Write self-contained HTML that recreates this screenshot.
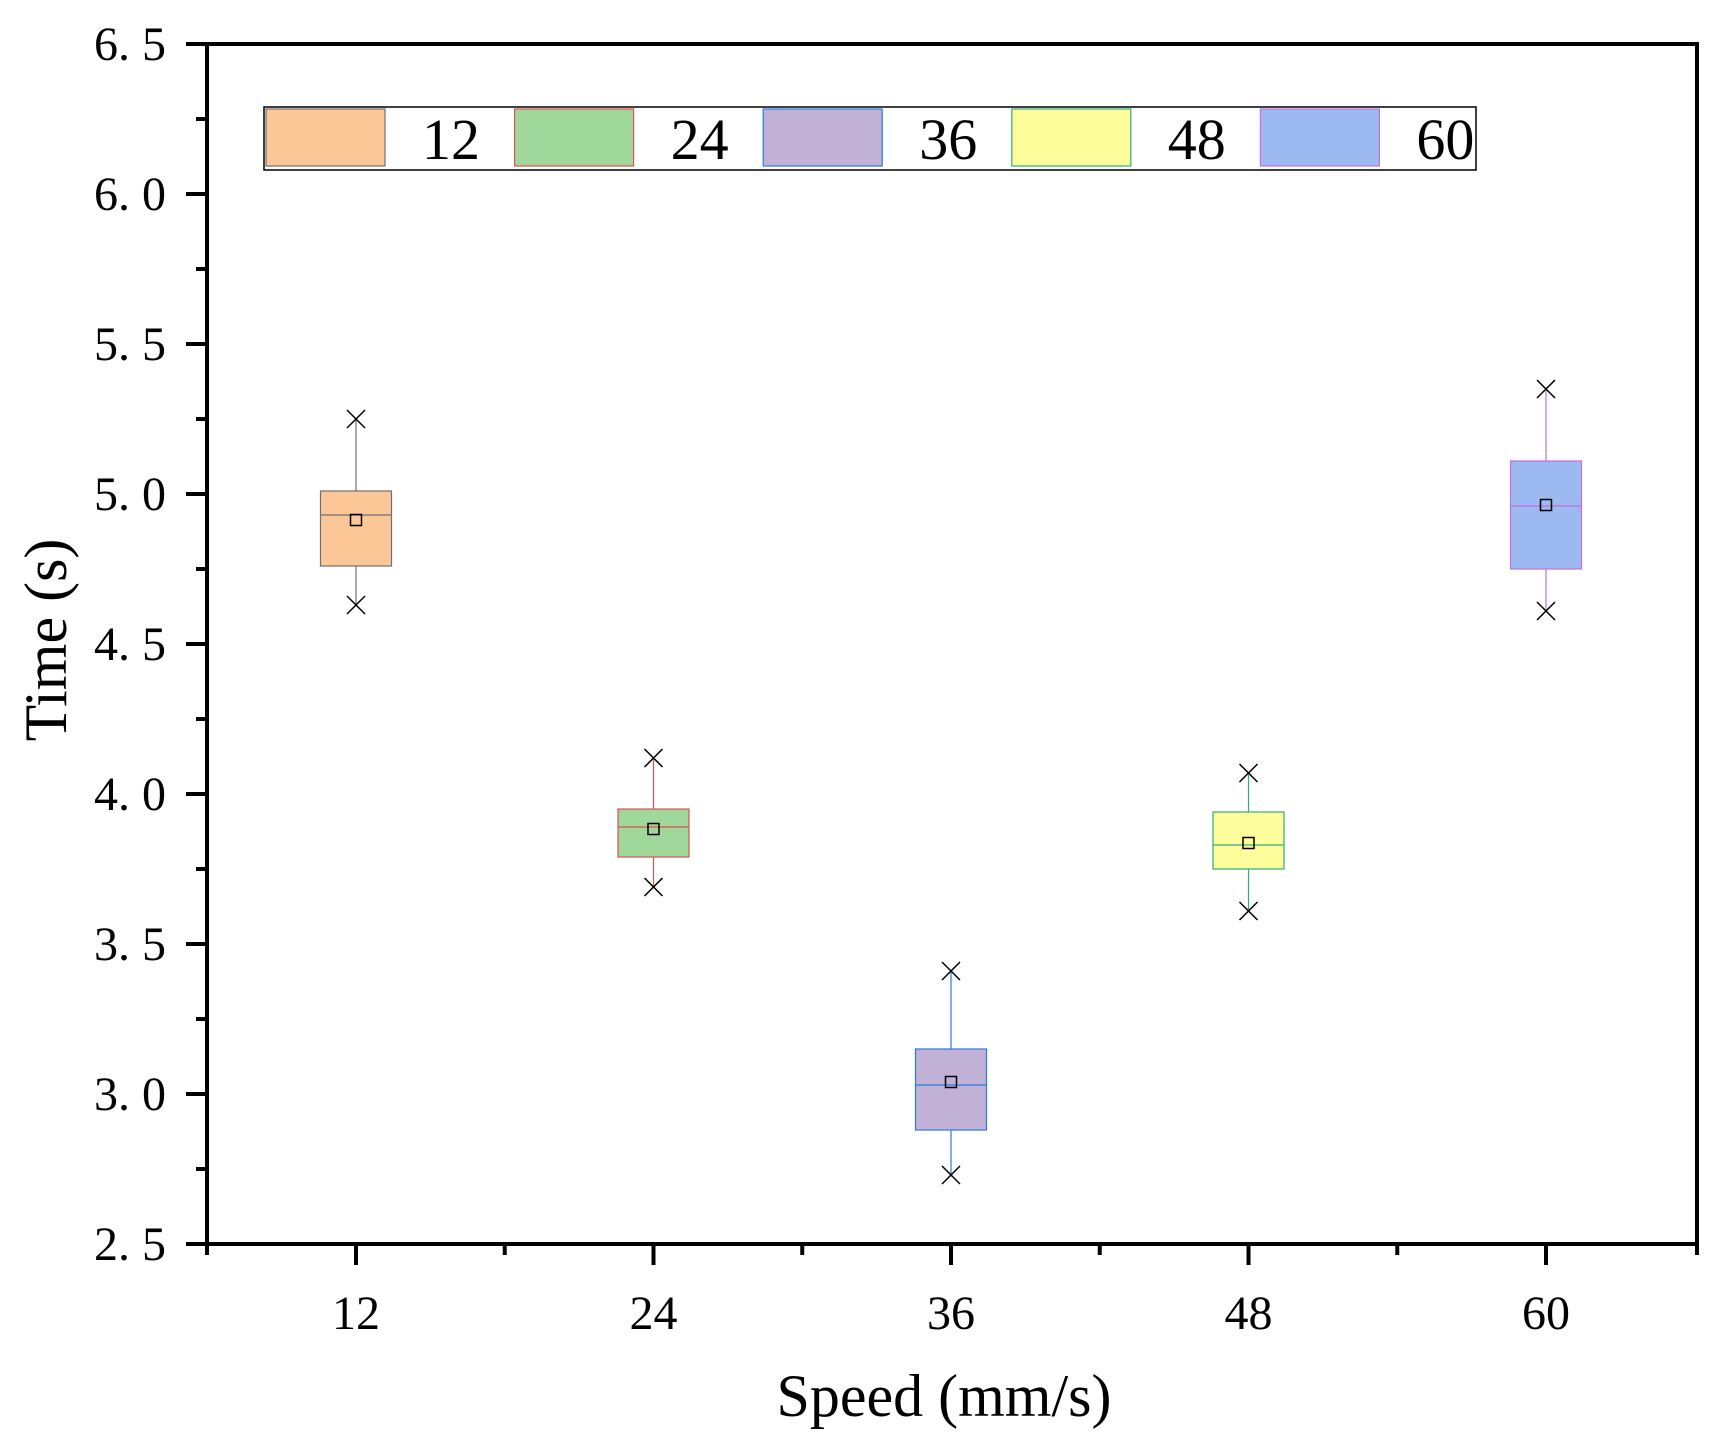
<!DOCTYPE html><html><head><style>body{margin:0;background:#fff}svg{display:block}text{font-family:"Liberation Serif",serif;fill:#000}</style></head><body>
<svg width="1717" height="1444" viewBox="0 0 1717 1444" xmlns="http://www.w3.org/2000/svg">
<g stroke="#000" stroke-width="4" fill="none">
<rect x="207" y="44" width="1490" height="1200"/>
<path d="M207 44h-21M207 194h-21M207 344h-21M207 494h-21M207 644h-21M207 794h-21M207 944h-21M207 1094h-21M207 1244h-21
M207 119h-11M207 269h-11M207 419h-11M207 569h-11M207 719h-11M207 869h-11M207 1019h-11M207 1169h-11
M356 1244v21M653.5 1244v21M951 1244v21M1248.5 1244v21M1546 1244v21
M207 1244v11M504.75 1244v11M802.25 1244v11M1099.75 1244v11M1397.25 1244v11M1697 1244v11"/>
</g>
<g font-size="48" text-anchor="end">
<text x="166" y="60" transform="scale(1,1)">6. 5</text><text x="166" y="210">6. 0</text><text x="166" y="360">5. 5</text><text x="166" y="510">5. 0</text><text x="166" y="660">4. 5</text><text x="166" y="810">4. 0</text><text x="166" y="960">3. 5</text><text x="166" y="1110">3. 0</text><text x="166" y="1260">2. 5</text>
</g>
<g font-size="48" text-anchor="middle">
<text x="356" y="1329">12</text><text x="653.5" y="1329">24</text><text x="951" y="1329">36</text><text x="1248.5" y="1329">48</text><text x="1546" y="1329">60</text>
</g>
<text x="944" y="1416" font-size="60" text-anchor="middle">Speed (mm/s)</text>
<text transform="translate(66,640) rotate(-90)" font-size="60" text-anchor="middle">Time (s)</text>
<g stroke-width="1.2">
<g stroke="#707070"><line x1="356" y1="419" x2="356" y2="605"/><rect x="320.5" y="491" width="71" height="75" fill="#fcc797"/><line x1="320.5" y1="515" x2="391.5" y2="515"/></g>
<g stroke="#e05050"><line x1="653.5" y1="758" x2="653.5" y2="887"/><rect x="618" y="809" width="71" height="48" fill="#9fd89a"/><line x1="618" y1="827" x2="689" y2="827"/></g>
<g stroke="#2a7ae0"><line x1="951" y1="971" x2="951" y2="1175"/><rect x="915.5" y="1049" width="71" height="81" fill="#c1b1d6"/><line x1="915.5" y1="1085" x2="986.5" y2="1085"/></g>
<g stroke="#2bb07a"><line x1="1248.5" y1="773" x2="1248.5" y2="911"/><rect x="1213" y="812" width="71" height="57" fill="#feff9c"/><line x1="1213" y1="845" x2="1284" y2="845"/></g>
<g stroke="#c070e0"><line x1="1546" y1="389" x2="1546" y2="611"/><rect x="1510.5" y="461" width="71" height="108" fill="#9db9f2"/><line x1="1510.5" y1="506" x2="1581.5" y2="506"/></g>
</g>
<g stroke="#000" stroke-width="1.5" fill="none">
<rect x="350.5" y="514.5" width="11" height="11"/><rect x="648" y="823.5" width="11" height="11"/><rect x="945.5" y="1076.5" width="11" height="11"/><rect x="1243" y="837.5" width="11" height="11"/><rect x="1540.5" y="499.5" width="11" height="11"/>
<path d="M347 410l18 18M365 410l-18 18M347 596l18 18M365 596l-18 18
M644.5 749l18 18M662.5 749l-18 18M644.5 878l18 18M662.5 878l-18 18
M942 962l18 18M960 962l-18 18M942 1166l18 18M960 1166l-18 18
M1239.5 764l18 18M1257.5 764l-18 18M1239.5 902l18 18M1257.5 902l-18 18
M1537 380l18 18M1555 380l-18 18M1537 602l18 18M1555 602l-18 18"/>
</g>
<rect x="264" y="107" width="1212" height="63" fill="#fff" stroke="#000" stroke-width="1.5"/>
<g stroke-width="1.2">
<rect x="266" y="109" width="119" height="57" fill="#fcc797" stroke="#707070"/>
<rect x="514.6" y="109" width="119" height="57" fill="#9fd89a" stroke="#e05050"/>
<rect x="763.2" y="109" width="119" height="57" fill="#c1b1d6" stroke="#2a7ae0"/>
<rect x="1011.8" y="109" width="119" height="57" fill="#feff9c" stroke="#2bb07a"/>
<rect x="1260.4" y="109" width="119" height="57" fill="#9db9f2" stroke="#c070e0"/>
</g>
<g font-size="58" text-anchor="middle">
<text x="451" y="159">12</text><text x="699.6" y="159">24</text><text x="948.2" y="159">36</text><text x="1196.8" y="159">48</text><text x="1445.4" y="159">60</text>
</g>
</svg>
</body></html>
